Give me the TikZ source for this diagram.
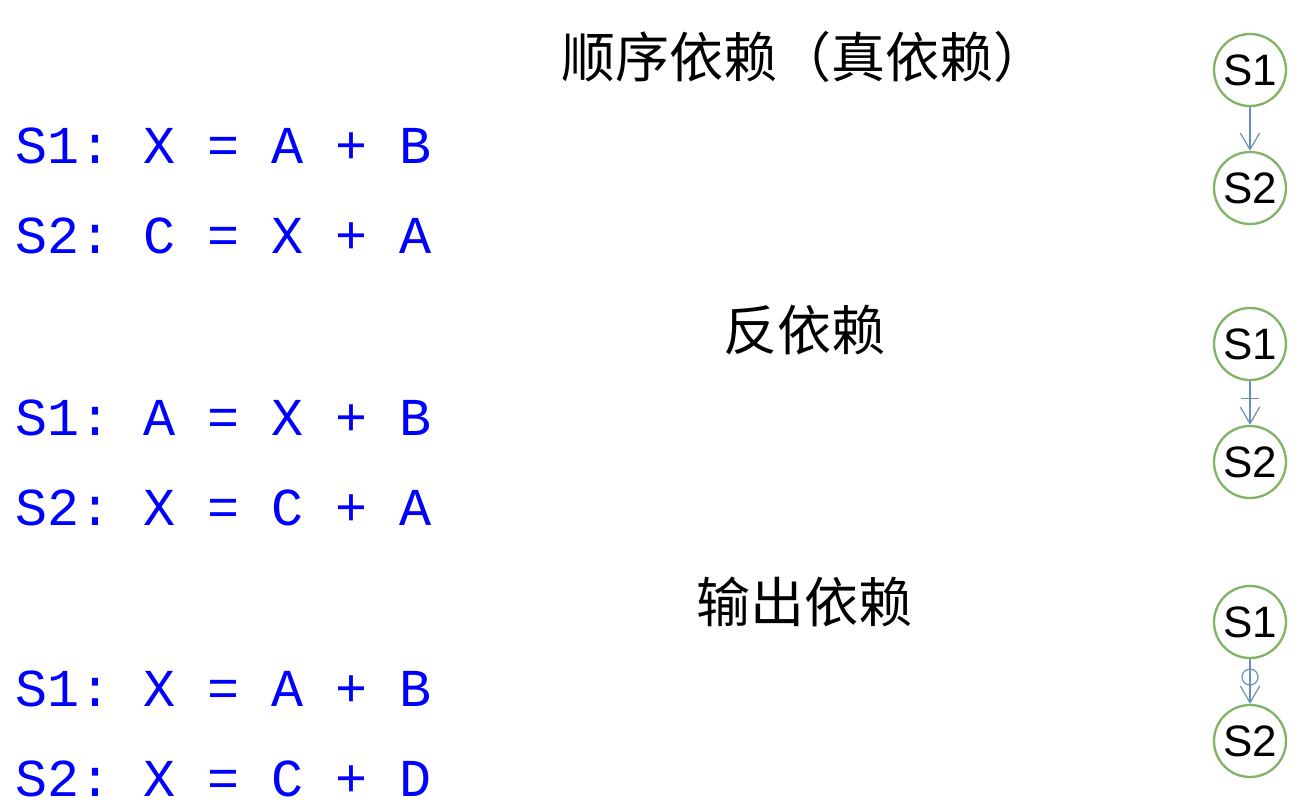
\documentclass[tikz,border=0pt]{standalone}
\usepackage{fontspec}
\setmainfont{Liberation Sans}
\setmonofont{Liberation Mono}
\newfontfamily\cjk{Noto Sans CJK SC}
\usetikzlibrary{arrows.meta}

\definecolor{codeblue}{RGB}{0,0,255}
\definecolor{stmtgreen}{RGB}{130,179,102}
\definecolor{depblue}{RGB}{108,142,191}

\begin{document}
\begin{tikzpicture}[x=0.75pt,y=-0.75pt,
    code/.style={anchor=base west, inner sep=0pt, text=codeblue,
        font=\ttfamily\fontsize{40}{40}\selectfont},
    title/.style={inner sep=0pt, font=\cjk\fontsize{40.5}{40.5}\selectfont},
    stmt/.style={circle, draw=stmtgreen, line width=1.75pt, minimum size=54pt,
        inner sep=0pt, font=\fontsize{33}{33}\selectfont},
    dep/.style={draw=depblue, line width=0.9pt,
        -{Straight Barb[length=12.5pt,width=14.5pt]}}]
    \useasboundingbox (0,0) rectangle (1304,806);

    % Draw the titles
    \node[title] (t1) at (804,57) {顺序依赖（真依赖）};
    \node[title] (t2) at (804,330) {反依赖};
    \node[title] (t3) at (804,602) {输出依赖};

    % Draw the code lines
    \node[code] (c11) at (15,164) {S1:~X~=~A~+~B};
    \node[code] (c12) at (15,254) {S2:~C~=~X~+~A};
    \node[code] (c21) at (15,435) {S1:~A~=~X~+~B};
    \node[code] (c22) at (15,525) {S2:~X~=~C~+~A};
    \node[code] (c31) at (15,706) {S1:~X~=~A~+~B};
    \node[code] (c32) at (15,796) {S2:~X~=~C~+~D};

    % Draw the dependency graphs
    \node[stmt] (a1) at (1250,70) {S1};
    \node[stmt] (b1) at (1250,188) {S2};
    \draw[dep] (a1) -- (b1);

    \node[stmt] (a2) at (1250,344) {S1};
    \node[stmt] (b2) at (1250,462) {S2};
    \draw[dep] (a2) -- (b2) coordinate[pos=0.4] (m2);
    \draw[depblue, line width=0.9pt] ([xshift=-7pt]m2) -- ([xshift=7pt]m2);

    \node[stmt] (a3) at (1250,622) {S1};
    \node[stmt] (b3) at (1250,741) {S2};
    \draw[dep] (a3) -- (b3) node[pos=0.4, circle, draw=depblue, line width=0.9pt,
        minimum size=12pt, inner sep=0pt] (m3) {};
\end{tikzpicture}
\end{document}
